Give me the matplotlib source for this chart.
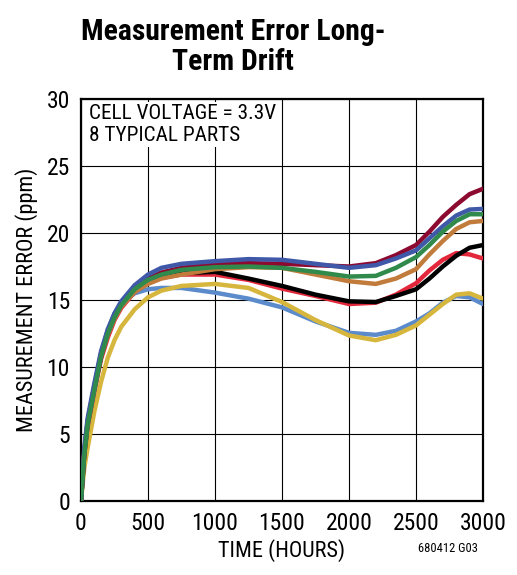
import matplotlib
matplotlib.use("Agg")
from matplotlib import pyplot as plt

plt.rcParams['font.family'] = ['Roboto Condensed', 'DejaVu Sans']

# hours
hours = [0, 25, 50, 100, 150, 200, 250, 300, 400, 500, 600, 750, 1000, 1250,
         1500, 1750, 2000, 2200, 2350, 2500, 2600, 2700, 2800, 2900, 3000]

# 8 parts, ppm
light_blue = [0, 3.5, 5.8, 8.5, 11.0, 12.8, 14.0, 14.8, 15.5, 15.8, 15.9, 15.9, 15.55, 15.1,
              14.45, 13.4, 12.55, 12.4, 12.7, 13.4, 14.0, 14.8, 15.3, 15.2, 14.7]
yellow = [0, 2.5, 4.0, 6.7, 8.9, 10.7, 12.0, 13.0, 14.3, 15.2, 15.7, 16.05, 16.2, 15.9,
          14.85, 13.5, 12.35, 12.0, 12.4, 13.1, 13.9, 14.7, 15.4, 15.5, 15.1]
red = [0, 3.5, 5.6, 8.2, 10.6, 12.2, 13.5, 14.4, 15.6, 16.3, 16.65, 16.9, 16.9, 16.5,
       15.85, 15.3, 14.7, 14.8, 15.4, 16.25, 17.2, 18.0, 18.5, 18.4, 18.1]
black = [0, 3.6, 5.8, 8.4, 10.8, 12.5, 13.7, 14.6, 15.8, 16.4, 16.8, 17.0, 17.1, 16.6,
         16.05, 15.4, 14.9, 14.85, 15.3, 15.8, 16.6, 17.5, 18.3, 18.9, 19.1]
orange = [0, 3.6, 5.8, 8.4, 10.8, 12.4, 13.6, 14.5, 15.6, 16.2, 16.6, 16.9, 17.3, 17.45,
          17.4, 16.9, 16.4, 16.2, 16.6, 17.3, 18.4, 19.4, 20.3, 20.8, 20.9]
maroon = [0, 3.8, 6.0, 8.6, 11.0, 12.6, 13.8, 14.7, 15.9, 16.6, 17.05, 17.4, 17.7, 17.75,
          17.7, 17.6, 17.5, 17.75, 18.35, 19.1, 20.1, 21.2, 22.1, 22.9, 23.3]
dark_blue = [0, 4.0, 6.2, 8.8, 11.2, 12.8, 14.0, 14.9, 16.1, 16.9, 17.4, 17.7, 17.9, 18.05,
             18.0, 17.7, 17.4, 17.6, 18.1, 18.7, 19.6, 20.5, 21.3, 21.75, 21.8]
green = [0, 3.5, 5.7, 8.3, 10.8, 12.5, 13.7, 14.6, 15.8, 16.5, 16.9, 17.25, 17.45, 17.5,
         17.4, 17.1, 16.75, 16.8, 17.4, 18.2, 19.1, 20.1, 20.9, 21.4, 21.4]

series = [
    (light_blue, '#5b8bcb'),
    (yellow, '#d6b63c'),
    (red, '#e3283c'),
    (black, '#000000'),
    (orange, '#c17c3c'),
    (maroon, '#8c0a30'),
    (dark_blue, '#3f58a8'),
    (green, '#2f8a4c'),
]

fig = plt.figure(figsize=(5.17, 5.75), dpi=100)
ax = fig.add_axes([81/517, 74/575, 402/517, 402/575])

for vals, col in series:
    ax.plot(hours, vals, color=col, lw=3.2, solid_capstyle='round',
            solid_joinstyle='round', zorder=3)

ax.set_xlim(0, 3000)
ax.set_ylim(0, 30)
ax.set_xticks(range(0, 3001, 500))
ax.set_yticks(range(0, 31, 5))
ax.grid(True, color='black', lw=0.8)
ax.set_axisbelow(True)
ax.tick_params(length=0, labelsize=17, pad=8)
for s in ax.spines.values():
    s.set_linewidth(1.6)

ax.set_xlabel('TIME (HOURS)', fontsize=16, labelpad=3)
ax.set_ylabel('MEASUREMENT ERROR (ppm)', fontsize=16, labelpad=6)

ax.text(60, 29.6, 'CELL VOLTAGE = 3.3V\n8 TYPICAL PARTS', fontsize=15.3, va='top', ha='left',
        linespacing=1.15, zorder=2,
        bbox=dict(facecolor='white', edgecolor='none', pad=2))

fig.text(233/517, 1 - 18/575, 'Measurement Error Long-\nTerm Drift', fontsize=21.3,
         fontweight='bold', ha='center', va='top', linespacing=1.1)
fig.text(448/517, 1 - 552/575, '680412 G03', fontsize=9, ha='center', va='baseline')

fig.savefig('out.png', dpi=100)
